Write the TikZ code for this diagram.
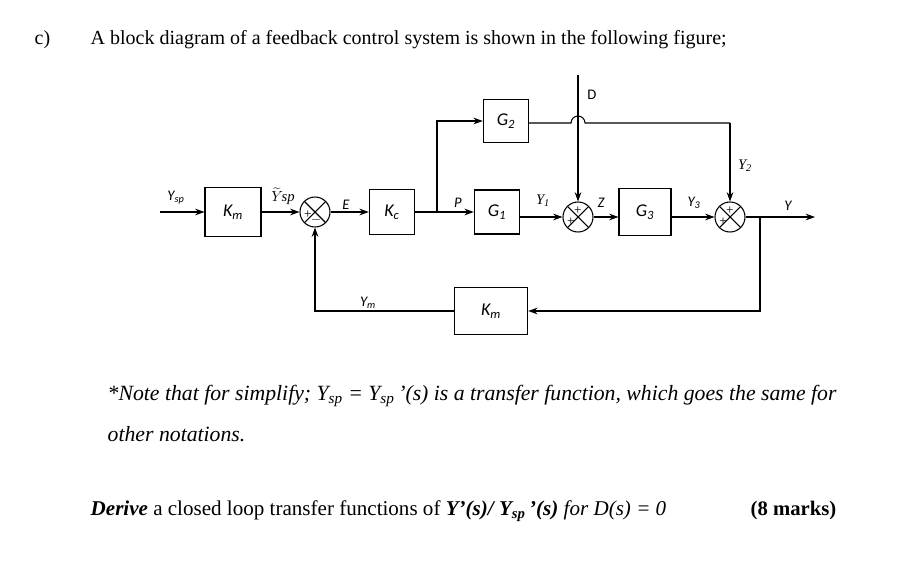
\documentclass[tikz,border=0pt]{standalone}
\usepackage{fontspec}
\setmainfont{Liberation Serif}
\newfontfamily\blk{Carlito}
\usetikzlibrary{arrows.meta}
\begin{document}
\begin{tikzpicture}[x=0.75pt,y=-0.75pt,>={Stealth[length=7pt,width=5pt]},
  blockbox/.style={draw,thick,inner sep=0,font=\blk\itshape\fontsize{13.5}{15}\selectfont},
  sig/.style={thick,->},
  lbl/.style={font=\blk\itshape\fontsize{11}{12}\selectfont},
  pm/.style={font=\fontsize{10}{10}\selectfont,inner sep=0},
  sumc/.style={draw,thick,circle,minimum size=22.5pt,inner sep=0,
    path picture={\draw[thick] (path picture bounding box.south west)--(path picture bounding box.north east)
      (path picture bounding box.north west)--(path picture bounding box.south east);}}]
\useasboundingbox (0,0) rectangle (917,564);
% header
\node[anchor=west,font=\fontsize{15}{18}\selectfont] at (30,40) {c)};
\node[anchor=west,font=\fontsize{15}{18}\selectfont] at (86,40) {A block diagram of a feedback control system is shown in the following figure;};
% blocks
\node[blockbox,minimum width=42pt,minimum height=37pt] (km) at (233,212) {K\textsubscript{m}};
\node[blockbox,minimum width=34pt,minimum height=34pt] (kc) at (392,212) {K\textsubscript{c}};
\node[blockbox,minimum width=34pt,minimum height=32pt] (g2) at (506,121) {G\textsubscript{2}};
\node[blockbox,minimum width=34pt,minimum height=33pt] (g1) at (497,212) {G\textsubscript{1}};
\node[blockbox,minimum width=39pt,minimum height=35pt] (g3) at (645,212) {G\textsubscript{3}};
\node[blockbox,minimum width=55pt,minimum height=35pt] (kf) at (491,311) {K\textsubscript{m}};
% summers
\node[sumc] (s1) at (315,212) {};
\node[sumc] (s2) at (578,217) {};
\node[sumc] (s3) at (730,217) {};
\node[pm] at ([shift={(-7,3)}]s1.center) {+};
\node[pm] at ([shift={(1,8)}]s1.center) {$-$};
\node[pm] at ([shift={(-7,5)}]s2.center) {+};
\node[pm] at ([shift={(0,-6)}]s2.center) {+};
\node[pm] at ([shift={(-7,5)}]s3.center) {+};
\node[pm] at ([shift={(0,-6)}]s3.center) {+};
% coordinates
\coordinate (in) at (160,212);
\coordinate (pb) at (437,212);
\coordinate (dt) at (578,75);
\coordinate (yb) at (760,217);
\coordinate (out) at (815,217);
% forward path
\draw[sig] (in) -- (km);
\draw[sig] (km) -- (s1);
\draw[sig] (s1) -- (kc);
\draw[thick] (kc) -- (pb);
\draw[sig] (pb) -- (g1);
\draw[sig] (pb) |- (g2);
\draw[sig] (g1.east |- s2) -- (s2);
\draw[sig] (s2) -- (g3.west |- s2);
\draw[sig] (g3.east |- s3) -- (s3);
\draw[sig] (s3) -- (out);
\draw[sig] (dt) -- (s2);
% G2 path with hop over D line
\draw[thick] (g2.east |- 0,123) -- (571,123) arc[start angle=180,end angle=360,radius=7] -- (730,123);
\draw[sig] (730,123) -- (s3);
% feedback
\draw[sig] (yb) |- (kf);
\draw[sig] (kf) -| (s1);
% labels
\node[lbl] at (176,198) {Y\textsubscript{sp}};
\node[font=\itshape\fontsize{11}{12}\selectfont] at (283,196) {$\widetilde{Y}$\kern-1pt sp};
\node[lbl] at (346,205) {E};
\node[lbl] at (458,203) {P};
\node[font=\itshape\fontsize{11}{12}\selectfont] at (543,201) {Y\textsubscript{\itshape 1}};
\node[font=\blk\fontsize{11}{12}\selectfont] at (592,95) {D};
\node[lbl] at (601,203) {Z};
\node[lbl] at (694,203) {Y\textsubscript{3}};
\node[font=\itshape\fontsize{11}{12}\selectfont] at (745,166) {Y\textsubscript{\itshape 2}};
\node[lbl] at (788,206) {Y};
\node[lbl] at (368,303) {Y\textsubscript{m}};
% note
\node[anchor=west,font=\itshape\fontsize{16.3}{18}\selectfont] at (103,396)
  {*Note that for simplify; Y\textsubscript{sp} = Y\textsubscript{sp}\,'(s) is a transfer function, which goes the same for};
\node[anchor=west,font=\itshape\fontsize{16.3}{18}\selectfont] at (103,434) {other notations.};
\node[anchor=west,font=\fontsize{15.8}{18}\selectfont] at (86,511)
  {\textbf{\textit{Derive}} a closed loop transfer functions of \textbf{\textit{Y'(s)/ Y\textsubscript{sp}\,'(s)}} \textit{for D(s) = 0}};
\node[anchor=west,font=\bfseries\fontsize{15.5}{18}\selectfont] at (746,511) {(8 marks)};
\end{tikzpicture}
\end{document}
